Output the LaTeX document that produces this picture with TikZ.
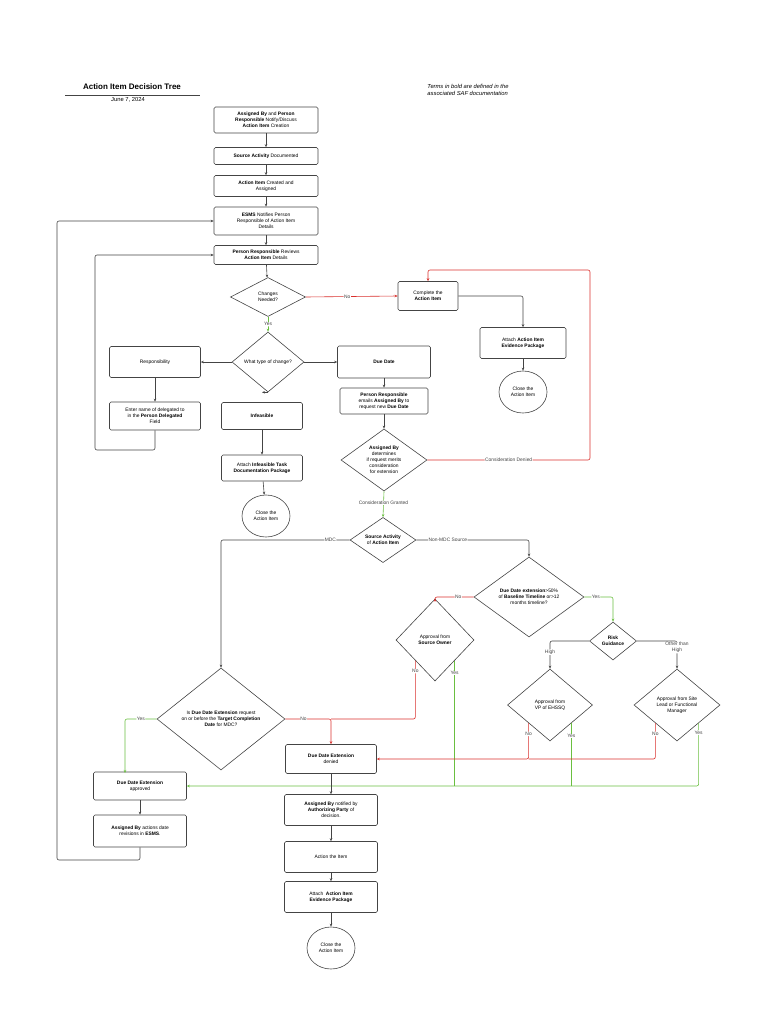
\documentclass[tikz,border=0pt]{standalone}
\usepackage{fontspec}
\setmainfont{Liberation Sans}
\usetikzlibrary{shapes.geometric,arrows.meta}
\definecolor{ln}{HTML}{444444}
\definecolor{rd}{HTML}{D9302C}
\definecolor{gn}{HTML}{6ABF40}
\begin{document}
\begin{tikzpicture}[x=1pt,y=-1pt,
  font=\fontsize{4.9}{5.9}\selectfont,
  box/.style={draw=ln,rounded corners=1.5pt,align=center,inner sep=1pt,line width=0.6pt},
  dia/.style={draw=ln,diamond,align=center,inner sep=0pt,line width=0.6pt},
  circ/.style={draw=ln,ellipse,align=center,minimum width=48,minimum height=42,inner sep=0pt,line width=0.6pt},
  ar/.style={draw=ln,line width=0.6pt,-{Stealth[length=3pt,width=2.5pt]},rounded corners=2pt},
  rar/.style={ar,draw=rd},
  gar/.style={ar,draw=gn},
  lb/.style={fill=white,inner sep=0.5pt}]
\useasboundingbox (0,0) rectangle (768,1024);
% header
\node[font=\fontsize{8}{9}\selectfont\bfseries] (title) at (132,87) {Action Item Decision Tree};
\coordinate (ul) at (65,95); \coordinate (ur) at (200,95);
\draw[ln,line width=0.6pt] (ul) -- (ur);
\node[font=\fontsize{5.8}{7}\selectfont] (date) at (128,100) {June 7, 2024};
\node[font=\fontsize{5.8}{7}\selectfont\itshape,align=left] (note) at (468,90) {Terms in bold are defined in the\\associated SAF documentation};
% main column
\node[box,minimum width=104,minimum height=26] (n1) at (266,120) {\textbf{Assigned By} and \textbf{Person}\\\textbf{Responsible} Notify/Discuss\\\textbf{Action Item} Creation};
\node[box,minimum width=104,minimum height=17] (n2) at (266,156) {\textbf{Source Activity} Documented};
\node[box,minimum width=104,minimum height=21] (n3) at (266,186) {\textbf{Action Item} Created and\\Assigned};
\node[box,minimum width=104,minimum height=28] (n4) at (266,221) {\textbf{ESMS} Notifies Person\\Responsible of Action Item\\Details};
\node[box,minimum width=104,minimum height=19] (n5) at (266,255) {\textbf{Person Responsible} Reviews\\\textbf{Action Item} Details};
\node[dia,minimum width=75,minimum height=39] (d1) at (268,297) {Changes\\Needed?};
\node[dia,minimum width=72,minimum height=60] (d2) at (268,362) {What type of change?};
\node[box,minimum width=91,minimum height=31] (resp) at (155,362) {Responsibility};
\node[box,minimum width=91,minimum height=28] (ent) at (155,416) {Enter name of delegated to\\in the \textbf{Person Delegated}\\Field};
\node[box,minimum width=81,minimum height=27] (inf) at (262,416) {\textbf{Infeasible}};
\node[box,minimum width=81,minimum height=26] (ainf) at (262,468) {Attach \textbf{Infeasible Task}\\\textbf{Documentation Package}};
\node[circ] (c1) at (266,516) {Close the\\Action Item};
\node[box,minimum width=93,minimum height=32] (dd) at (384,362) {\textbf{Due Date}};
\node[box,minimum width=88,minimum height=26] (pre) at (384,401) {\textbf{Person Responsible}\\emails \textbf{Assigned By} to\\request new \textbf{Due Date}};
\node[dia,minimum width=86,minimum height=61] (d3) at (384,460) {\textbf{Assigned By}\\determines\\if request merits\\consideration\\for extension};
\node[box,minimum width=60,minimum height=29] (comp) at (428,296) {Complete the\\\textbf{Action Item}};
\node[box,minimum width=86,minimum height=31] (aev) at (523,343) {Attach \textbf{Action Item}\\\textbf{Evidence Package}};
\node[circ] (c2) at (523,392) {Close the\\Action Item};
\node[dia,minimum width=66,minimum height=45] (d4) at (383,540) {\textbf{Source Activity}\\of \textbf{Action Item}};
\node[dia,minimum width=110,minimum height=80] (d6) at (529,597) {\textbf{Due Date extension}>50\%\\of \textbf{Baseline Timeline} or>12\\months timeline?};
\node[dia,minimum width=78,minimum height=82] (d7) at (435,640) {Approval from\\\textbf{Source Owner}};
\node[dia,minimum width=47,minimum height=38] (risk) at (613,641) {\textbf{Risk}\\\textbf{Guidance}};
\node[dia,minimum width=85,minimum height=72] (d8) at (550,705) {Approval from\\VP of EHSSQ};
\node[dia,minimum width=86,minimum height=72] (d9) at (677,705) {Approval from Site\\Lead or Functional\\Manager};
\node[dia,minimum width=128,minimum height=102] (d5) at (221,719) {Is \textbf{Due Date Extension} request\\on or before the \textbf{Target Completion}\\\textbf{Date} for MDC?};
\node[box,minimum width=91,minimum height=29] (den) at (331,759) {\textbf{Due Date Extension}\\denied};
\node[box,minimum width=93,minimum height=28] (appr) at (140,786) {\textbf{Due Date Extension}\\approved};
\node[box,minimum width=93,minimum height=32] (abact) at (140,831) {\textbf{Assigned By} actions date\\revisions in \textbf{ESMS}.};
\node[box,minimum width=93,minimum height=31] (notif) at (331,810) {\textbf{Assigned By} notified by\\\textbf{Authorizing Party} of\\decision.};
\node[box,minimum width=93,minimum height=31] (act) at (331,857) {Action the Item};
\node[box,minimum width=93,minimum height=31] (aev2) at (331,897) {Attach \ \textbf{Action Item}\\\textbf{Evidence Package}};
\node[circ] (c3) at (331,948) {Close the\\Action Item};
% straight flow
\draw[ar] (n1) -- (n2); \draw[ar] (n2) -- (n3); \draw[ar] (n3) -- (n4); \draw[ar] (n4) -- (n5);
\draw[ar] (n5) -- (d1);
\draw[gar] (d1) -- node[lb,text=ln]{Yes} (d2);
\draw[rar] (d1.east) -- node[lb,text=ln,pos=0.45]{No} (comp.west);
\draw[ar] (comp.east) -| (aev.north);
\draw[ar] (aev) -- (c2);
\draw[ar] (d2.west) -- (resp.east);
\draw[ar] (d2.east) -- (dd.west);
\draw[ar] (d2.south) -- (d2.south -| inf.north);
\draw[ar] (resp) -- (ent);
\draw[ar] (inf) -- (ainf); \draw[ar] (ainf) -- (c1);
\draw[ar] (dd) -- (pre); \draw[ar] (pre) -- (d3);
\coordinate (l1) at (155,450); \coordinate (l2) at (95,450);
\draw[ar] (ent.south) -- (l1) -- (l2) |- (n5.west);
\coordinate (r1) at (590,460); \coordinate (r2) at (590,270);
\draw[rar] (d3.east) -- node[lb,text=ln]{Consideration Denied} (r1) -- (r2) -| (comp.north);
\draw[gar] (d3.south) -- node[lb,text=ln,pos=0.45]{Consideration Granted} (d4.north);
\coordinate (m1) at (221,540);
\draw[ar] (d4.west) -- node[lb,text=ln,pos=0.15]{MDC} (m1) -- (d5.north);
\draw[ar] (d4.east) -- node[lb,text=ln,pos=0.28]{Non-MDC Source} (d4.east -| d6.north) -- (d6.north);
\draw[rar] (d6.west) -- node[lb,text=ln,pos=0.4]{No} (d6.west -| d7.north) -- (d7.north);
\draw[gar] (d6.east) -- node[lb,text=ln,pos=0.4]{Yes} (d6.east -| risk.north) -- (risk.north);
\draw[ar] (risk.west) -| node[lb,text=ln,pos=0.7]{High} (d8.north);
\draw[ar] (risk.east) -| node[lb,text=ln,pos=0.62,align=center]{Other than\\High} (d9.north);
% MDC branch
\draw[gar] (d5.west) -- node[lb,text=ln,pos=0.5]{Yes} (d5.west -| 125,0) -- (125,773);
\draw[rar] (d5.east) -- node[lb,text=ln,pos=0.4]{No} (d5.east -| den.north) -- (den.north);
\draw[rd,line width=0.6pt,rounded corners=2pt] (d7.south west) -- node[lb,text=ln,pos=0.18]{No} (d7.south west |- d5.east) -- (d5.east -| den.north);
\draw[gn,line width=0.6pt] (d7.south east) -- node[lb,text=ln,pos=0.1]{Yes} (d7.south east |- appr.east);
\draw[rar] (d8.south west) -- node[lb,text=ln,pos=0.3]{No} (d8.south west |- den.east) -- (den.east);
\draw[gn,line width=0.6pt] (d8.south east) -- node[lb,text=ln,pos=0.2]{Yes} (d8.south east |- appr.east);
\draw[rd,line width=0.6pt,rounded corners=2pt] (d9.south west) -- node[lb,text=ln,pos=0.3]{No} (d9.south west |- den.east) -- (d8.south west |- den.east);
\draw[gar] (d9.south east) -- node[lb,text=ln,pos=0.15]{Yes} (d9.south east |- appr.east) -- (appr.east);
% bottom
\draw[ar] (den) -- (notif); \draw[ar] (notif) -- (act); \draw[ar] (act) -- (aev2); \draw[ar] (aev2) -- (c3);
\draw[ar] (appr) -- (abact);
\coordinate (b1) at (140,860); \coordinate (b2) at (57,860);
\draw[ar] (abact.south) -- (b1) -- (b2) |- (n4.west);
\end{tikzpicture}
\end{document}
